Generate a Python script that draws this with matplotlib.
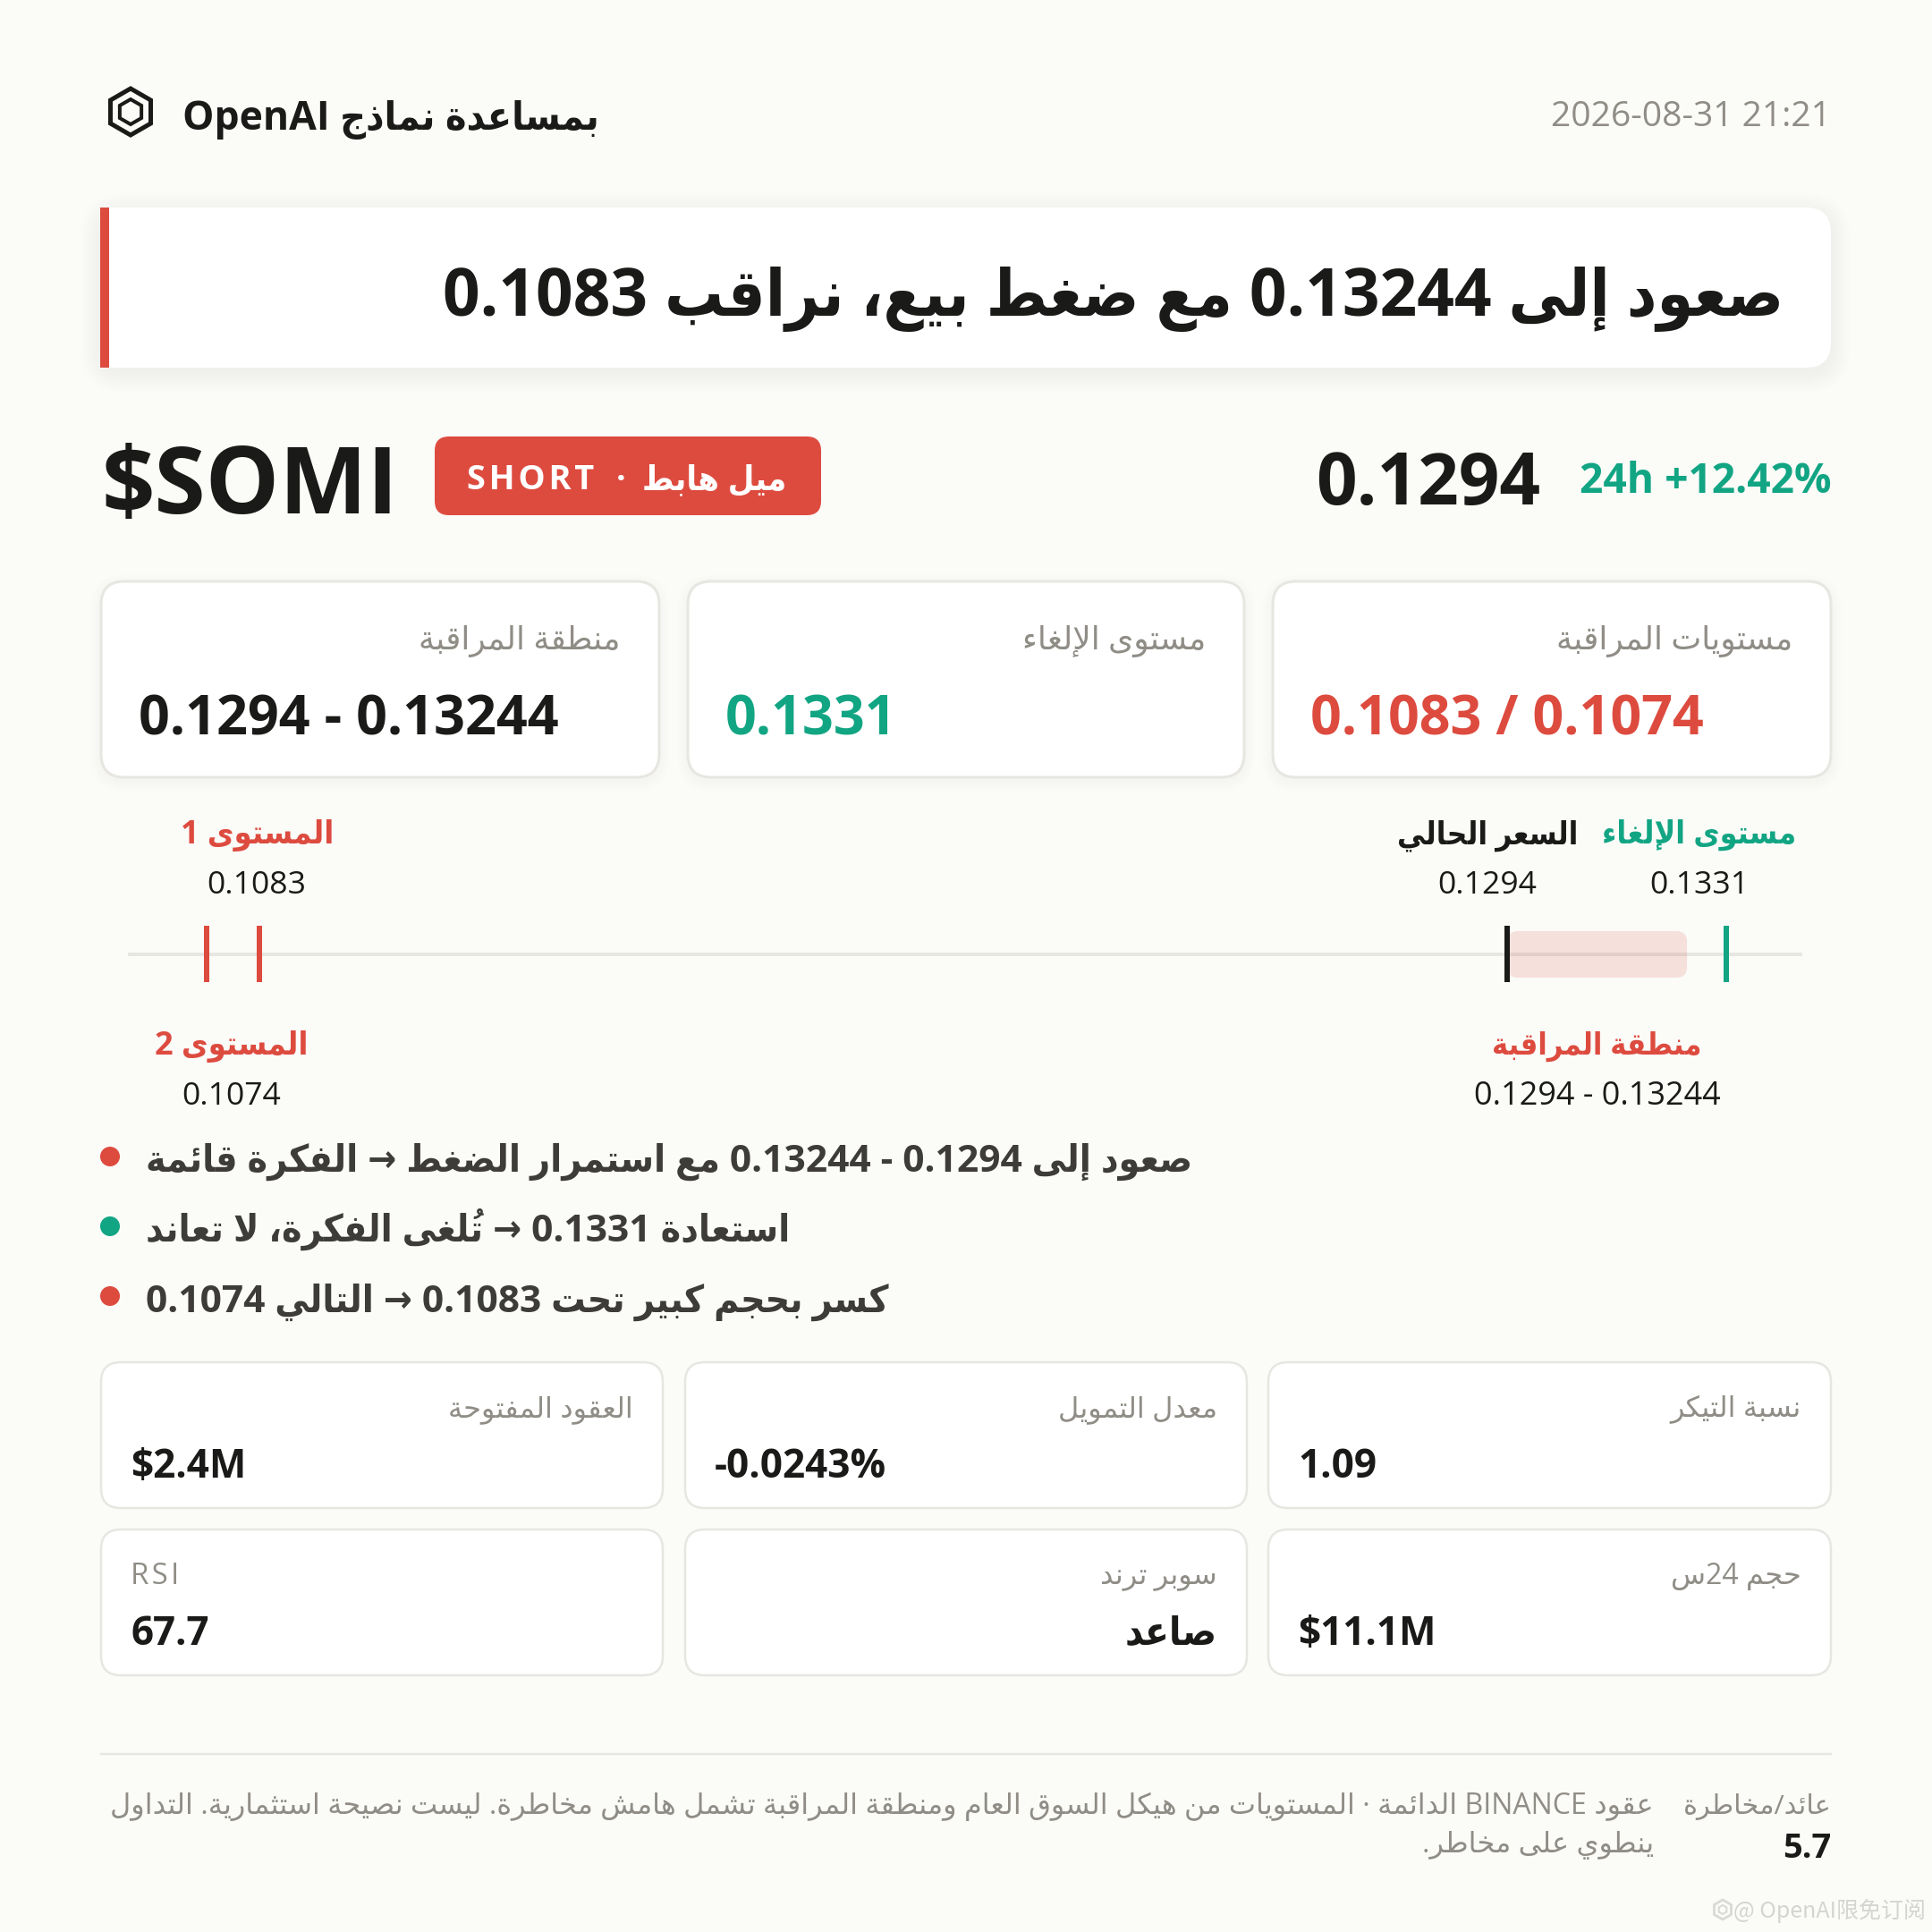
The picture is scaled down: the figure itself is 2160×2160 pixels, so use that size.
# -*- coding: utf-8 -*-

import re
import matplotlib
matplotlib.use("Agg")
from matplotlib import pyplot as plt
from matplotlib.patches import FancyBboxPatch, Rectangle, Circle, RegularPolygon

# data
BRAND = "بمساعدة نماذج OpenAI"
STAMP = "2026-08-31 21:21"
HEADLINE = "صعود إلى 0.13244 مع ضغط بيع، نراقب 0.1083"
TICKER = "$SOMI"
BADGE_EN = "SHORT"
BADGE_AR = "ميل هابط"
PRICE_TEXT = "0.1294"
CHANGE_TEXT = "24h +12.42%"

KPI_LABELS = ["منطقة المراقبة", "مستوى الإلغاء", "مستويات المراقبة"]
KPI_VALUES = ["0.1294 - 0.13244", "0.1331", "0.1083 / 0.1074"]

LEVEL_1 = 0.1083
LEVEL_2 = 0.1074
CURRENT = 0.1294
ZONE_HIGH = 0.13244
INVALID = 0.1331
RULER_MIN = 0.10607
RULER_MAX = 0.13439

BULLETS = [
    "صعود إلى 0.1294 - 0.13244 مع استمرار الضغط → الفكرة قائمة",
    "استعادة 0.1331 → تُلغى الفكرة، لا تعاند",
    "كسر بحجم كبير تحت 0.1083 → التالي 0.1074",
]

STAT_LABELS = ["العقود المفتوحة", "معدل التمويل", "نسبة التيكر", "RSI", "سوبر ترند", "حجم 24س"]
STAT_VALUES = ["$2.4M", "-0.0243%", "1.09", "67.7", "صاعد", "$11.1M"]

RR_LABEL = "عائد/مخاطرة"
RR_VALUE = "5.7"
NOTE_1 = "عقود BINANCE الدائمة · المستويات من هيكل السوق العام ومنطقة المراقبة تشمل هامش مخاطرة. ليست نصيحة استثمارية. التداول"
NOTE_2 = "ينطوي على مخاطر."
WATERMARK = "@ OpenAI限免订阅"

BG = "#FBFBF8"
INK = "#1A1A18"
SOFT = "#3D3C38"
GRAY = "#8F8D86"
RED = "#DD4B3F"
GREEN = "#12A583"
EDGE = "#E7E6E1"

# matplotlib does no Arabic shaping, so map letters to presentation forms here
FORMS = {}
code = 0xFE80
for ch, n in [("ء", 1), ("آ", 2), ("أ", 2), ("ؤ", 2), ("إ", 2), ("ئ", 4), ("ا", 2), ("ب", 4), ("ة", 2),
              ("ت", 4), ("ث", 4), ("ج", 4), ("ح", 4), ("خ", 4), ("د", 2), ("ذ", 2), ("ر", 2), ("ز", 2),
              ("س", 4), ("ش", 4), ("ص", 4), ("ض", 4), ("ط", 4), ("ظ", 4), ("ع", 4), ("غ", 4), ("ف", 4),
              ("ق", 4), ("ك", 4), ("ل", 4), ("م", 4), ("ن", 4), ("ه", 4), ("و", 2), ("ى", 2), ("ي", 4)]:
    FORMS[ch] = [chr(code + i) for i in range(n)]
    code += n
LAM_ALEF = {"آ": 0xFEF5, "أ": 0xFEF7, "إ": 0xFEF9, "ا": 0xFEFB}
MARKS = "\u064b\u064c\u064d\u064e\u064f\u0650\u0651\u0652"
JOIN_FORWARD = set(ch for ch in FORMS if len(FORMS[ch]) == 4)

def shape(s):
    clusters = re.findall(".[%s]*" % MARKS, s)
    out = []
    i = 0
    prevJoins = False
    while i < len(clusters):
        c = clusters[i]
        base = c[0]
        marks = c[1:]
        if base not in FORMS:
            out.append(c)
            prevJoins = False
            i += 1
            continue
        nxt = clusters[i + 1][0] if i + 1 < len(clusters) else ""
        if base == "ل" and nxt in LAM_ALEF:
            out.append(chr(LAM_ALEF[nxt] + (1 if prevJoins else 0)) + marks)
            prevJoins = False
            i += 2
            continue
        f = FORMS[base]
        joinsNext = base in JOIN_FORWARD and nxt in FORMS
        if len(f) == 1:
            g = f[0]
        elif len(f) == 2:
            g = f[1] if prevJoins else f[0]
        elif prevJoins and joinsNext:
            g = f[3]
        elif prevJoins:
            g = f[1]
        elif joinsNext:
            g = f[2]
        else:
            g = f[0]
        out.append(g + marks)
        prevJoins = base in JOIN_FORWARD
        i += 1
    return "".join(out)

def ar(s):
    s = shape(s)
    parts = re.split(r"([A-Za-z0-9][A-Za-z0-9.]*)", s)
    out = []
    for p in reversed(parts):
        if re.fullmatch(r"[A-Za-z0-9][A-Za-z0-9.]*", p):
            out.append(p)
        else:
            # the mark goes first: DejaVu draws it from the pen position over the next glyph
            for c in reversed(re.findall(".[%s]*" % MARKS, p)):
                out.append(c[1:] + c[0])
    return "".join(out)

FONT = ["Open Sans", "DejaVu Sans"]
plt.rcParams["font.family"] = FONT

fig = plt.figure(figsize=(21.6, 21.6), dpi=100, facecolor=BG)
ax = fig.add_axes([0, 0, 1, 1])
ax.set_xlim(0, 2160)
ax.set_ylim(2160, 0)
ax.axis("off")

def text(x, y, s, size, color=INK, weight="normal", ha="left", **kw):
    # size is in output pixels
    if weight == "bold":
        kw["fontstretch"] = "condensed"
    return ax.text(x, y, s, fontsize=size * 0.72, color=color, fontweight=weight, ha=ha, va="baseline", zorder=5, **kw)

def box(x0, y0, x1, y1, r, face="white", edge="none", lw=0, z=2, alpha=None):
    p = FancyBboxPatch((x0, y0), x1 - x0, y1 - y0, boxstyle="round,pad=0,rounding_size=%s" % r,
                       facecolor=face, edgecolor=edge, linewidth=lw * 0.72, zorder=z, alpha=alpha)
    ax.add_patch(p)
    return p

def shadow(x0, y0, x1, y1, r, dy=6, spread=22, alpha=0.002):
    for k in range(spread, 0, -2):
        box(x0 - k, y0 - k + dy, x1 + k, y1 + k + dy, r + k, face="black", z=1, alpha=alpha)

# header
ax.add_patch(RegularPolygon((146, 125), 6, radius=26, facecolor="none", edgecolor=INK, linewidth=5 * 0.72, zorder=5))
ax.add_patch(RegularPolygon((146, 125), 6, radius=14, facecolor="none", edgecolor=INK, linewidth=4 * 0.72, zorder=5))
text(204, 145, ar(BRAND), 44.5, INK, "bold")
text(2047, 141, STAMP, 39, GRAY, ha="right")

# headline card
shadow(112, 232, 2047, 411, 28)
box(112, 232, 2047, 411, 28)
ax.add_patch(Rectangle((112, 232), 50, 179, facecolor="white", edgecolor="none", zorder=3))
ax.add_patch(Rectangle((112, 232), 10, 179, facecolor=RED, edgecolor="none", zorder=4))
text(1994, 353, ar(HEADLINE), 73, INK, "bold", ha="right")

# ticker row
text(114, 574, TICKER, 104, INK, "bold")
box(486, 488, 918, 576, 16, face=RED, z=3)
text(522, 547, "\u200a".join(BADGE_EN), 38, "white", "bold")
text(694, 547, "·", 38, "white", "bold", ha="center")
text(879, 547, ar(BADGE_AR), 38, "white", "bold", ha="right")
text(1722, 564, PRICE_TEXT, 80, INK, "bold", ha="right")
text(2047, 551, CHANGE_TEXT, 46.2, GREEN, "bold", ha="right")

# level cards
kpiX = [(113, 737), (769, 1391), (1423, 2047)]
kpiColors = [INK, GREEN, RED]
for (x0, x1), label, value, color in zip(kpiX, KPI_LABELS, KPI_VALUES, kpiColors):
    shadow(x0, 650, x1, 869, 26, dy=4, spread=12)
    box(x0, 650, x1, 869, 26, edge=EDGE, lw=3)
    text(x1 - 43, 726, ar(label), 36, GRAY, ha="right")
    text(x0 + 42, 821, value, 61, color, "bold")

# price ruler
ruler = fig.add_axes([143 / 2160, 1 - 1098 / 2160, (2015 - 143) / 2160, 63 / 2160])
ruler.set_xlim(RULER_MIN, RULER_MAX)
ruler.set_ylim(0, 1)
ruler.axis("off")
ruler.patch.set_alpha(0)
ruler.vlines([LEVEL_1, LEVEL_2], 0, 1, color=RED, linewidth=6 * 0.72)
ruler.vlines([CURRENT], 0, 1, color=INK, linewidth=6 * 0.72)
ruler.vlines([INVALID], 0, 1, color=GREEN, linewidth=6 * 0.72)

def priceX(p):
    return ruler.transData.transform((p, 0))[0]

ax.plot([143, 2015], [1067, 1067], color=EDGE, linewidth=4 * 0.72, zorder=2, solid_capstyle="butt")
box(priceX(CURRENT), 1041, priceX(ZONE_HIGH), 1093, 12, face=RED, z=3, alpha=0.15)

text(288, 943, ar("المستوى 1"), 36, RED, "bold", ha="center")
text(287, 999, "%.4f" % LEVEL_1, 35.5, INK, ha="center")
text(259, 1179, ar("المستوى 2"), 36, RED, "bold", ha="center")
text(259, 1235, "%.4f" % LEVEL_2, 35.5, INK, ha="center")
text(priceX(CURRENT) - 22, 943, ar("السعر الحالي"), 35, INK, "bold", ha="center")
text(priceX(CURRENT) - 22, 999, "%.4f" % CURRENT, 35.5, INK, ha="center")
text(priceX(INVALID) - 30, 943, ar("مستوى الإلغاء"), 35.5, GREEN, "bold", ha="center")
text(priceX(INVALID) - 30, 999, "%.4f" % INVALID, 35.5, INK, ha="center")
zoneMid = (priceX(CURRENT) + priceX(ZONE_HIGH)) / 2
text(zoneMid, 1179, ar("منطقة المراقبة"), 34, RED, "bold", ha="center")
text(zoneMid, 1235, "%.4f - %.5f" % (CURRENT, ZONE_HIGH), 36, INK, ha="center")

# scenario bullets
bulletColors = [RED, GREEN, RED]
bulletY = [1293, 1371, 1449]
bulletBase = [1310, 1388, 1467]
for s, color, yDot, yText in zip(BULLETS, bulletColors, bulletY, bulletBase):
    ax.add_patch(Circle((123, yDot), 11, facecolor=color, edgecolor="none", zorder=5))
    text(163, yText, ar(s), 42.5, SOFT, "bold")

# stat grid
statX = [(113, 741), (766, 1394), (1418, 2047)]
statY = [(1523, 1686), (1710, 1873)]
for i, (label, value) in enumerate(zip(STAT_LABELS, STAT_VALUES)):
    x0, x1 = statX[i % 3]
    y0, y1 = statY[i // 3]
    box(x0, y0, x1, y1, 22, edge=EDGE, lw=2.5)
    if label == "RSI":
        text(x0 + 33, y0 + 61, "\u200a".join(label), 33, GRAY)
    else:
        text(x1 - 33, y0 + 61, ar(label), 32, GRAY, ha="right")
    if value == "صاعد":
        text(x1 - 33, y0 + 129, ar(value), 44, INK, "bold", ha="right")
    else:
        text(x0 + 33, y0 + 129, value, 44, INK, "bold")

# footer
ax.plot([113, 2047], [1961, 1961], color=EDGE, linewidth=2.5 * 0.72, zorder=2)
text(2048, 2028, ar(RR_LABEL), 30.5, GRAY, ha="right")
text(2047, 2077, RR_VALUE, 38, INK, "bold", ha="right")
text(1849, 2028, ar(NOTE_1), 32, GRAY, ha="right")
text(1849, 2071, ar(NOTE_2), 32, GRAY, ha="right")

# watermark
ax.add_patch(RegularPolygon((1926, 2135), 6, radius=11, facecolor="none", edgecolor="#D9D9D5", linewidth=2, zorder=5))
ax.add_patch(RegularPolygon((1926, 2135), 6, radius=5, facecolor="none", edgecolor="#D9D9D5", linewidth=1.5, zorder=5))
text(2153, 2144, WATERMARK, 25, "#D4D4D0", ha="right", family=["Noto Sans CJK SC", "DejaVu Sans"])

fig.savefig("out.png", dpi=100, facecolor=BG)
